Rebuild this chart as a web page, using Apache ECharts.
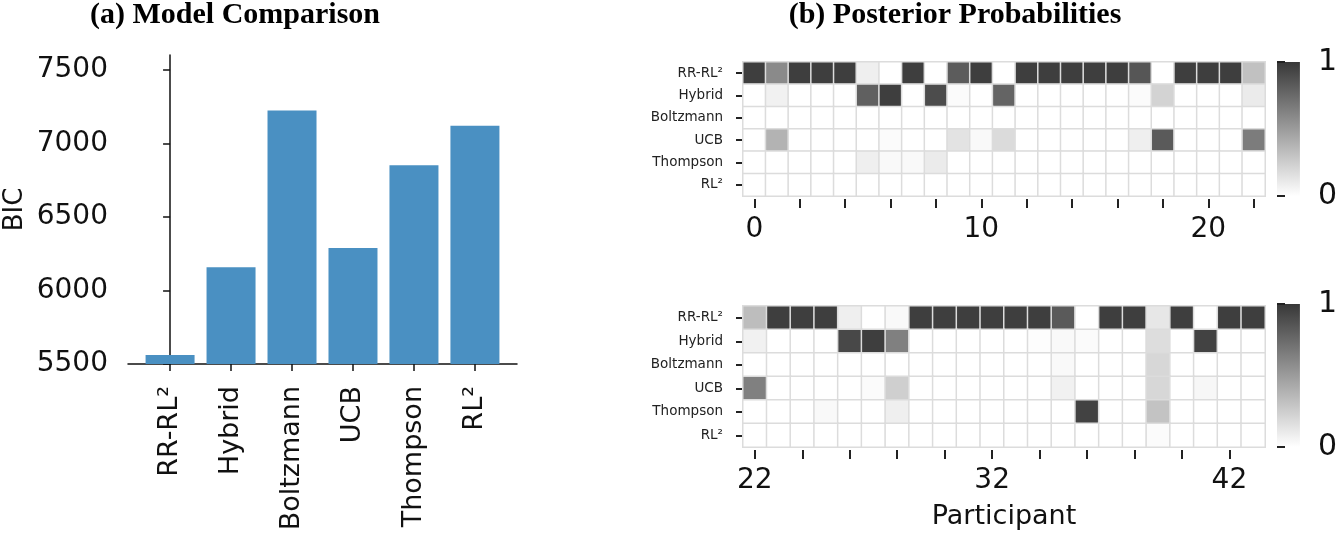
<!DOCTYPE html>
<html>
<head>
<meta charset="utf-8">
<title>Model Comparison / Posterior Probabilities</title>
<script src="https://cdn.jsdelivr.net/npm/echarts@6/dist/echarts.min.js"></script>
<style>
  html, body { margin: 0; padding: 0; background: #fff; }
  #container1 { width: 1340px; height: 534px; }
</style>
</head>
<body>
<div id="container1"></div>
<script>
// (a) BIC per model
var models = ['RR-RL²', 'Hybrid', 'Boltzmann', 'UCB', 'Thompson', 'RL²'];
var bic = [5561, 6158, 7223, 6288, 6850, 7120];
var bicTicks = [5500, 6000, 6500, 7000, 7500];

// (b) posterior probabilities, one array per model row
var partTop = [];
for (var i = 0; i <= 22; i++) partTop.push(String(i));
var partBottom = [];
for (var j = 22; j <= 43; j++) partBottom.push(String(j));

var topRR    = [0.97, 0.59, 0.97, 0.97, 0.97, 0.08, 0, 0.97, 0, 0.82, 0.97, 0, 0.97, 0.97, 0.97, 0.97, 0.97, 0.85, 0, 0.97, 0.97, 0.97, 0.31];
var topHyb   = [0, 0.07, 0, 0, 0, 0.8, 0.97, 0, 0.9, 0.02, 0, 0.78, 0, 0, 0, 0, 0, 0.02, 0.22, 0, 0, 0, 0.1];
var topBoltz = [0, 0, 0, 0, 0, 0, 0, 0, 0, 0, 0, 0, 0, 0, 0, 0, 0, 0, 0, 0, 0, 0, 0];
var topUCB   = [0, 0.38, 0, 0, 0, 0, 0.02, 0, 0, 0.14, 0.03, 0.18, 0, 0, 0, 0, 0, 0.08, 0.83, 0, 0, 0, 0.66];
var topThom  = [0, 0, 0, 0, 0, 0.08, 0.03, 0.03, 0.1, 0, 0, 0, 0, 0, 0, 0, 0, 0, 0, 0, 0, 0, 0];
var topRL2   = [0, 0, 0, 0, 0, 0, 0, 0, 0, 0, 0, 0, 0, 0, 0, 0, 0, 0, 0, 0, 0, 0, 0];

var botRR    = [0.33, 0.97, 0.97, 0.97, 0.08, 0, 0.03, 0.97, 0.97, 0.97, 0.97, 0.97, 0.97, 0.83, 0, 0.97, 0.97, 0.12, 0.97, 0, 0.97, 0.97];
var botHyb   = [0.07, 0, 0, 0, 0.92, 0.97, 0.64, 0, 0, 0, 0, 0, 0.01, 0.03, 0.02, 0, 0, 0.17, 0, 0.95, 0, 0];
var botBoltz = [0, 0, 0, 0, 0, 0, 0, 0, 0, 0, 0, 0, 0, 0.03, 0, 0, 0, 0.2, 0, 0, 0, 0];
var botUCB   = [0.64, 0, 0, 0, 0, 0.02, 0.24, 0, 0, 0, 0, 0, 0, 0.07, 0, 0, 0, 0.2, 0, 0.04, 0, 0];
var botThom  = [0, 0, 0, 0.03, 0, 0, 0.08, 0, 0, 0, 0, 0, 0, 0, 0.95, 0, 0, 0.3, 0, 0, 0, 0];
var botRL2   = [0, 0, 0, 0, 0, 0, 0, 0, 0, 0, 0, 0, 0, 0, 0, 0, 0, 0.02, 0, 0, 0, 0];

var colorbarTicks = [0, 1];

function toCells(rows) {
	var out = [];
	for (var r = 0; r < rows.length; r++) {
		for (var c = 0; c < rows[r].length; c++) {
			out.push([c, r, rows[r][c]]);
		}
	}
	return out;
}

var FONT = 'DejaVu Sans';
var DARK = '#383838';

function heatX(gridIndex, data, withName) {
	var ax = {
		type: 'category',
		gridIndex: gridIndex,
		data: data,
		offset: 3,
		axisLine: { show: false },
		axisTick: {
			show: true, alignWithLabel: true, length: 9,
			interval: function (i) { return i % 2 === 0; },
			lineStyle: { color: '#222', width: 2 }
		},
		axisLabel: {
			interval: function (i) { return i % 10 === 0; },
			margin: 17, fontFamily: FONT, fontSize: 28, color: '#111'
		},
		splitLine: { show: false }
	};
	if (withName) {
		ax.name = 'Participant';
		ax.nameLocation = 'middle';
		ax.nameGap = 53;
		ax.nameTextStyle = { fontFamily: FONT, fontSize: 27, color: '#111' };
	}
	return ax;
}

function heatY(gridIndex) {
	return {
		type: 'category',
		gridIndex: gridIndex,
		data: models,
		inverse: true,
		axisLine: { show: false },
		axisTick: { show: true, alignWithLabel: true, length: 7, lineStyle: { color: '#222', width: 2 } },
		axisLabel: { margin: 20, fontFamily: FONT, fontSize: 13.5, color: '#222' },
		splitLine: { show: false }
	};
}

function barY() {
	return {
		type: 'value',
		gridIndex: 0,
		min: 5500,
		max: 7600,
		name: 'BIC',
		nameLocation: 'middle',
		nameGap: 100,
		nameTextStyle: { fontFamily: FONT, fontSize: 26, color: '#111' },
		axisLine: { show: true, lineStyle: { color: '#111', width: 1.5 } },
		axisTick: { show: true, length: 7, customValues: bicTicks, lineStyle: { color: '#111', width: 1.5 } },
		axisLabel: {
			customValues: bicTicks, margin: 20, fontFamily: FONT, fontSize: 28, color: '#111',
			formatter: function (v) { return String(v); }
		},
		splitLine: { show: false }
	};
}

function cbarY(gridIndex) {
	return {
		type: 'value',
		gridIndex: gridIndex,
		position: 'right',
		min: 0,
		max: 1,
		axisLine: { show: false },
		axisTick: { show: true, length: 8, customValues: colorbarTicks, lineStyle: { color: '#222', width: 2 } },
		axisLabel: { customValues: colorbarTicks, margin: 18, fontFamily: FONT, fontSize: 30, color: '#111' },
		splitLine: { show: false }
	};
}

function cbarX(gridIndex) {
	return { type: 'value', gridIndex: gridIndex, min: 0, max: 1, show: false };
}

var grad = {
	type: 'linear', x: 0, y: 0, x2: 0, y2: 1,
	colorStops: [{ offset: 0, color: DARK }, { offset: 1, color: '#ffffff' }]
};

var cellStyle = { borderColor: '#dcdcdc', borderWidth: 1.5 };

var option = {
	animation: false,
	backgroundColor: '#ffffff',
	graphic: [
		{ type: 'text', x: 235, y: 0, style: { text: '(a) Model Comparison', font: 'bold 30px "Liberation Serif"', fill: '#000', textAlign: 'center', textVerticalAlign: 'top' } },
		{ type: 'text', x: 955, y: 0, style: { text: '(b) Posterior Probabilities', font: 'bold 30px "Liberation Serif"', fill: '#000', textAlign: 'center', textVerticalAlign: 'top' } }
	],
	grid: [
		{ left: 128, top: 55, width: 389, height: 309 },
		{ left: 743, top: 62, width: 522, height: 134 },
		{ left: 743, top: 306, width: 522, height: 141 },
		{ left: 1277, top: 62, width: 25, height: 134, show: true, borderWidth: 0, backgroundColor: grad },
		{ left: 1277, top: 304, width: 25, height: 143, show: true, borderWidth: 0, backgroundColor: grad }
	],
	xAxis: [
		{
			type: 'value',
			gridIndex: 0,
			min: -0.69,
			max: 5.69,
			axisLine: { show: true, lineStyle: { color: '#111', width: 1.5 } },
			axisTick: { show: true, length: 7, customValues: [0, 1, 2, 3, 4, 5], lineStyle: { color: '#111', width: 1.5 } },
			axisLabel: {
				customValues: [0, 1, 2, 3, 4, 5],
				rotate: 90, margin: 22,
				fontFamily: FONT, fontSize: 27, color: '#111',
				formatter: function (v) { return models[Math.round(v)]; }
			},
			splitLine: { show: false }
		},
		heatX(1, partTop, false),
		heatX(2, partBottom, true),
		cbarX(3),
		cbarX(4)
	],
	yAxis: [barY(), heatY(1), heatY(2), cbarY(3), cbarY(4)],
	visualMap: {
		show: false,
		seriesIndex: [1, 2],
		min: 0,
		max: 1,
		dimension: 2,
		inRange: { color: ['#ffffff', DARK] }
	},
	series: [
		{
			type: 'bar',
			xAxisIndex: 0,
			yAxisIndex: 0,
			barWidth: 49,
			itemStyle: { color: '#4a90c2' },
			data: bic.map(function (v, k) { return [k, v]; })
		},
		{
			type: 'heatmap',
			xAxisIndex: 1,
			yAxisIndex: 1,
			itemStyle: cellStyle,
			emphasis: { disabled: true },
			data: toCells([topRR, topHyb, topBoltz, topUCB, topThom, topRL2])
		},
		{
			type: 'heatmap',
			xAxisIndex: 2,
			yAxisIndex: 2,
			itemStyle: cellStyle,
			emphasis: { disabled: true },
			data: toCells([botRR, botHyb, botBoltz, botUCB, botThom, botRL2])
		}
	]
};

var myChart = echarts.init(document.getElementById('container1'));
myChart.setOption(option);
</script>
</body>
</html>
